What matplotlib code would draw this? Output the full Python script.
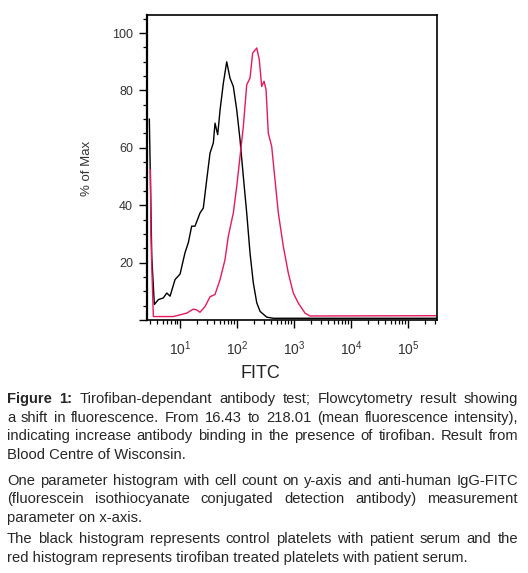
import numpy as np
import matplotlib
matplotlib.use('Agg')
import matplotlib.pyplot as plt
from matplotlib.ticker import MultipleLocator, FuncFormatter, LogLocator

plt.rcParams['font.family'] = ['Liberation Sans', 'DejaVu Sans']
plt.rcParams['mathtext.fontset'] = 'custom'
plt.rcParams['mathtext.rm'] = 'Liberation Sans'
plt.rcParams['mathtext.it'] = 'Liberation Sans'

# histogram traces (FITC intensity vs % of max)
black_fitc = [2.89, 3.19, 3.54, 4.16, 5.09, 5.85, 6.68, 8.17, 10.0, 12.2, 14.0, 16.0,
              18.3, 22.4, 25.6, 29.4, 33.6, 38.4, 41.1, 45.8, 50.4, 57.5, 65.9, 75.3,
              86.1, 98.9, 113, 129, 148, 169, 193, 222, 254, 332, 434, 1000, 319000]
black_pct = [70, 22, 5.4, 7.1, 7.7, 9.4, 8.3, 14.1, 16, 23.4, 27, 32.7,
             32.7, 37.3, 39, 48.9, 58.2, 61.7, 68.6, 64.6, 73.2, 82.5, 90, 84.3,
             81.4, 73.2, 62.8, 50, 37.3, 23.4, 13, 6, 3, 1, 0.6, 0.6, 0.6]

red_fitc = [3.02, 3.08, 3.19, 3.40, 4.46, 7.63, 10.0, 13.1, 17.1, 19.6, 22.4, 27.5,
            33.6, 41.1, 50.4, 61.5, 70.3, 86.1, 98.9, 113, 129, 148, 169, 188,
            222, 246, 271, 298, 323, 354, 406, 464, 531, 649, 794, 972,
            1190, 1560, 1910, 319000]
red_pct = [52.4, 30, 18.6, 1.2, 1.2, 1.2, 1.8, 2.4, 3.8, 3.5, 2.7, 4.7,
           8.1, 8.9, 14.1, 21, 29.2, 37.3, 46.6, 57, 67.4, 82, 84.3, 93,
           94.8, 90.7, 81.4, 83.2, 80.3, 65.1, 60.5, 48.9, 37.3, 25.7, 16.4, 9.4,
           5.9, 2.4, 1.4, 1.5]

x_labels = ['$10^{1}$', '$10^{2}$', '$10^{3}$', '$10^{4}$', '$10^{5}$']
x_major = [1e1, 1e2, 1e3, 1e4, 1e5]

caption = [
    [("Figure 1:", True), ("Tirofiban-dependant antibody test; Flowcytometry result showing", False)],
    [("a shift in fluorescence. From 16.43 to 218.01 (mean fluorescence intensity),", False)],
    [("indicating increase antibody binding in the presence of tirofiban. Result from", False)],
    [("Blood Centre of Wisconsin.", False)],
    [("One parameter histogram with cell count on y-axis and anti-human IgG-FITC", False)],
    [("(fluorescein isothiocyanate conjugated detection antibody) measurement", False)],
    [("parameter on x-axis.", False)],
    [("The black histogram represents control platelets with patient serum and the", False)],
    [("red histogram represents tirofiban treated platelets with patient serum.", False)],
]
justified = [True, True, True, False, True, True, False, True, False]
baselines = [403, 422, 440, 459, 485, 503, 522, 543, 562]

W, H = 528, 573
fig = plt.figure(figsize=(W / 100, H / 100), dpi=100)
ax = fig.add_axes([147 / W, 1 - 320 / H, 290 / W, 305 / H])

ax.plot(black_fitc, black_pct, color='black', lw=1.0)
ax.plot(red_fitc, red_pct, color='#e5195c', lw=1.0)

ax.set_xscale('log')
ax.set_xlim(10 ** 0.42, 10 ** 5.51)
ax.set_ylim(0, 106.3)

ax.set_xticks(x_major)
ax.set_xticklabels(x_labels)
ax.xaxis.set_minor_locator(LogLocator(base=10, subs=np.arange(2, 10), numticks=20))
ax.xaxis.set_minor_formatter(FuncFormatter(lambda v, p: ''))
ax.yaxis.set_major_locator(MultipleLocator(20))
ax.yaxis.set_minor_locator(MultipleLocator(5))
ax.yaxis.set_major_formatter(FuncFormatter(lambda v, p: '' if v == 0 else '%d' % v))

ax.tick_params(which='major', length=6, width=1.0, direction='out', colors='black',
               labelcolor='#333333', labelsize=9)
ax.tick_params(which='minor', length=3, width=0.9, direction='out', colors='black')
ax.tick_params(axis='x', which='major', pad=8, labelsize=10)
ax.tick_params(axis='y', which='major', pad=4)

for s in ax.spines.values():
    s.set_linewidth(1.2)
ax.spines['left'].set_linewidth(1.6)

fig.text(87 / W, 1 - 168 / H, '% of Max', rotation=90, ha='center', va='center',
         fontsize=9.5, color='#333333')
fig.text(260 / W, 1 - 374 / H, 'FITC', ha='center', va='center', fontsize=13,
         color='#222222')

# justified caption
renderer = fig.canvas.get_renderer()
left_px, right_px = 7, 518
fs = 10.6
col = '#262626'
for line, just, base in zip(caption, justified, baselines):
    y = 1 - base / H
    words = []
    for txt, bold in line:
        for w in txt.split(' '):
            words.append((w, bold))
    if not just:
        x = left_px
        for txt, bold in line:
            t = fig.text(x / W, y, txt, fontsize=fs, color=col, va='baseline',
                         fontweight='bold' if bold else 'normal')
            x += t.get_window_extent(renderer).width + 4
        continue
    objs = []
    widths = []
    for w, bold in words:
        t = fig.text(0, y, w, fontsize=fs, color=col, va='baseline',
                     fontweight='bold' if bold else 'normal')
        objs.append(t)
        widths.append(t.get_window_extent(renderer).width)
    gap = (right_px - left_px - sum(widths)) / (len(words) - 1)
    x = left_px
    for t, wd in zip(objs, widths):
        t.set_x(x / W)
        x += wd + gap

fig.savefig('out.png', dpi=100)
